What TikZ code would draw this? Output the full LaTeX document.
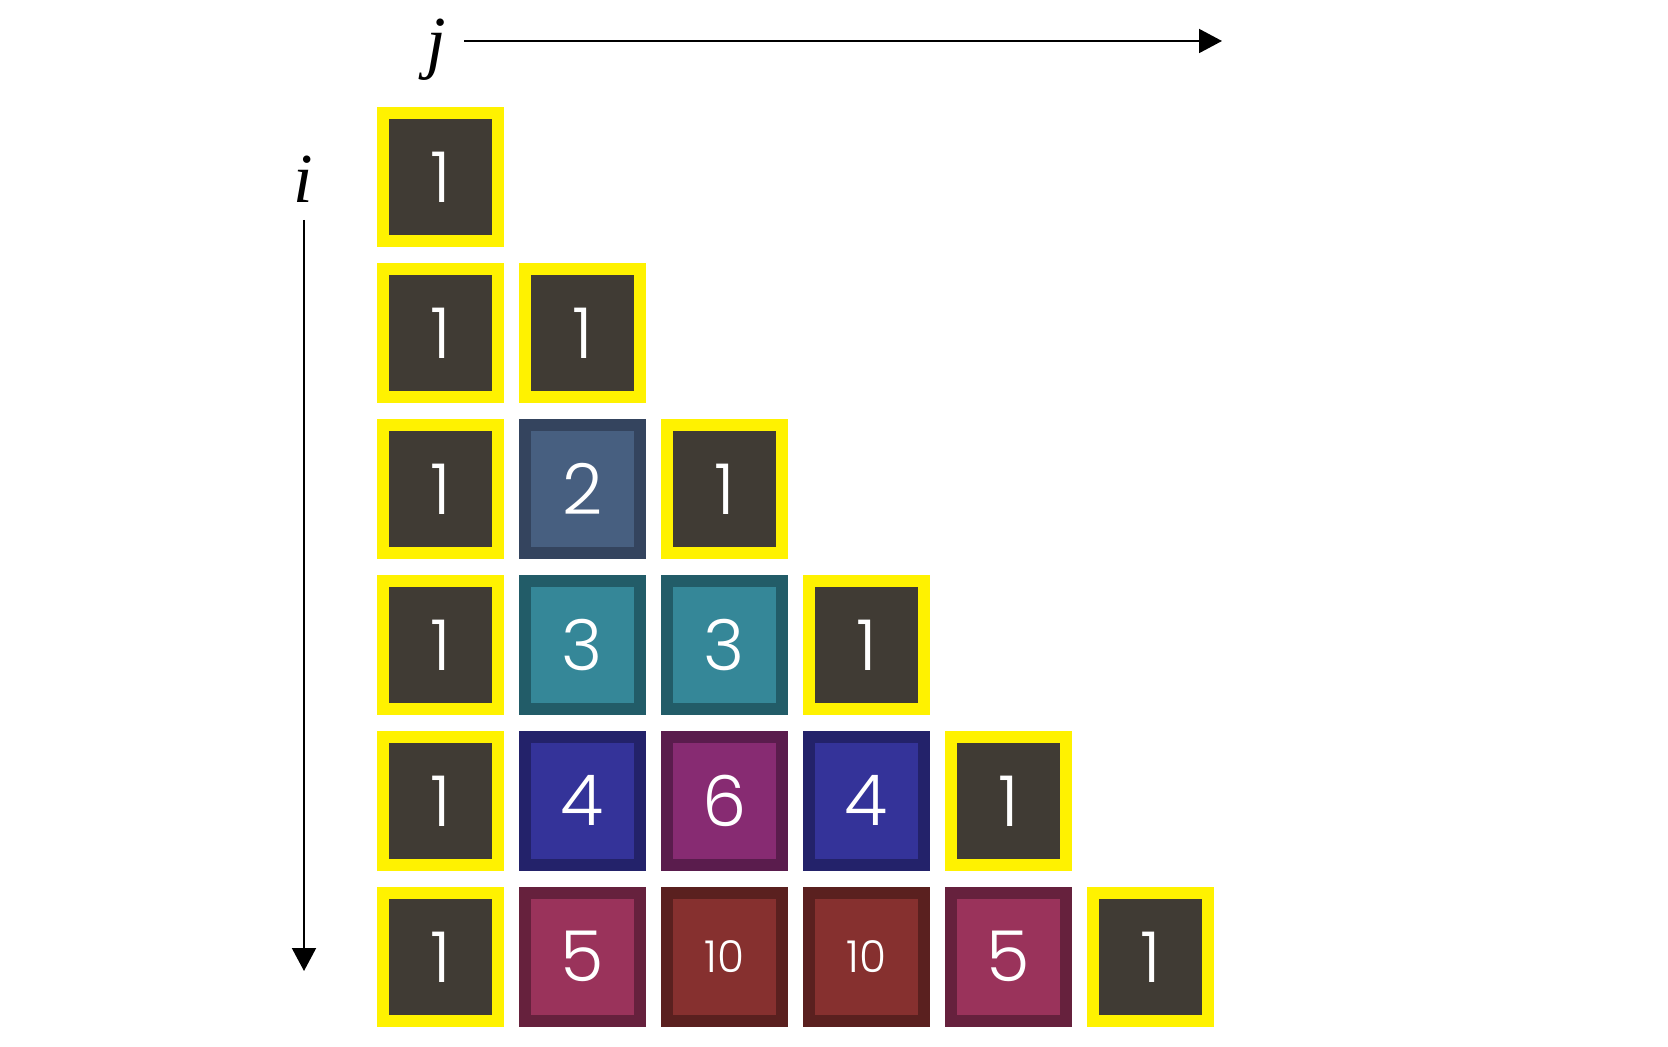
\documentclass[tikz,border=0pt]{standalone}
\usepackage{fontspec}
\newfontfamily\numfont{Poppins Light}
\newfontfamily\axisfont{Liberation Serif}
\usetikzlibrary{positioning,arrows.meta}
\definecolor{cellgray}{RGB}{64,59,52}
\definecolor{twoedge}{RGB}{52,68,94}
\definecolor{twofill}{RGB}{71,95,128}
\definecolor{threeedge}{RGB}{34,92,104}
\definecolor{threefill}{RGB}{53,135,152}
\definecolor{fouredge}{RGB}{35,34,106}
\definecolor{fourfill}{RGB}{52,51,153}
\definecolor{sixedge}{RGB}{90,28,77}
\definecolor{sixfill}{RGB}{135,43,114}
\definecolor{tenedge}{RGB}{90,32,31}
\definecolor{tenfill}{RGB}{134,48,47}
\definecolor{fiveedge}{RGB}{102,33,61}
\definecolor{fivefill}{RGB}{154,51,91}

\begin{document}
\begin{tikzpicture}[x=0.02cm,y=-0.02cm,node distance=0.32cm and 0.3cm]
\tikzstyle{cell}=[rectangle,line width=0.24cm,minimum width=2.3cm,minimum height=2.56cm,inner sep=0pt,text=white,font=\numfont\fontsize{40}{40}\selectfont]
\tikzstyle{onecell}=[cell,draw=yellow,fill=cellgray]
\tikzstyle{twocell}=[cell,draw=twoedge,fill=twofill]
\tikzstyle{threecell}=[cell,draw=threeedge,fill=threefill]
\tikzstyle{fourcell}=[cell,draw=fouredge,fill=fourfill]
\tikzstyle{sixcell}=[cell,draw=sixedge,fill=sixfill]
\tikzstyle{tencell}=[cell,draw=tenedge,fill=tenfill,font=\numfont\fontsize{25}{25}\selectfont]
\tikzstyle{fivecell}=[cell,draw=fiveedge,fill=fivefill]
\tikzstyle{axis}=[line width=0.04cm,-{Triangle[length=0.46cm,width=0.48cm]}]
\tikzstyle{label}=[font=\axisfont\itshape\fontsize{40}{40}\selectfont,inner sep=0pt]
\useasboundingbox (0,0) rectangle (1668,1047);

% axes
\node[label]    (j) at (436,50)    {j};
\node[label]    (i) at (303,179)   {i};
\coordinate (jtail) at (464,41);
\coordinate (jhead) at (1222,41);
\coordinate (itail) at (304,220);
\coordinate (ihead) at (304,971);
\draw[axis] (jtail) -- (jhead);
\draw[axis] (itail) -- (ihead);

% row 0
\node[onecell]  (P00) at (440.5,177)   {1};
% row 1
\node[onecell]  (P10) [below=of P00]   {1};
\node[onecell]  (P11) [right=of P10]   {1};
% row 2
\node[onecell]  (P20) [below=of P10]   {1};
\node[twocell]  (P21) [right=of P20]   {2};
\node[onecell]  (P22) [right=of P21]   {1};
% row 3
\node[onecell]  (P30) [below=of P20]   {1};
\node[threecell] (P31) [right=of P30]  {3};
\node[threecell] (P32) [right=of P31]  {3};
\node[onecell]  (P33) [right=of P32]   {1};
% row 4
\node[onecell]  (P40) [below=of P30]   {1};
\node[fourcell] (P41) [right=of P40]   {4};
\node[sixcell]  (P42) [right=of P41]   {6};
\node[fourcell] (P43) [right=of P42]   {4};
\node[onecell]  (P44) [right=of P43]   {1};
% row 5
\node[onecell]  (P50) [below=of P40]   {1};
\node[fivecell] (P51) [right=of P50]   {5};
\node[tencell]  (P52) [right=of P51]   {10};
\node[tencell]  (P53) [right=of P52]   {10};
\node[fivecell] (P54) [right=of P53]   {5};
\node[onecell]  (P55) [right=of P54]   {1};

\end{tikzpicture}
\end{document}
